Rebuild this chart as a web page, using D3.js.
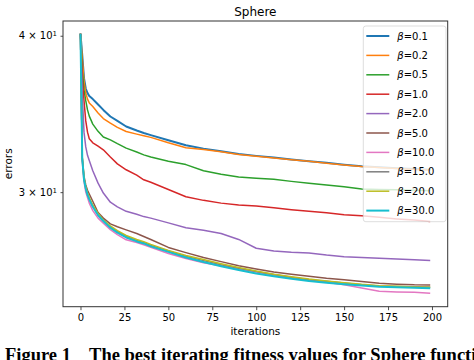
<!DOCTYPE html>
<html>
<head>
<meta charset="utf-8">
<script src="https://cdn.jsdelivr.net/npm/d3@7"></script>
<style>
  body { margin: 0; background: #fff; }
  svg { display: block; }
  .tick text { font-family: "DejaVu Sans", sans-serif; font-size: 10px; fill: #000; }
  .axis-label { font-family: "DejaVu Sans", sans-serif; font-size: 10.5px; fill: #000; }
</style>
</head>
<body>
<div id="chart"></div>
<script>
// iterations sampled along x
const iters = [0, 1, 2, 3, 4, 5, 7, 10, 13, 17, 21, 26, 32, 36, 40, 50, 60, 70, 80, 90, 100, 110, 120, 130, 140, 150, 160, 170, 180, 190, 199];

// best errors per beta
const b01 = [40.15, 38.6, 37.0, 36.3, 36.0, 35.8, 35.6, 35.25, 34.9, 34.48, 34.2, 33.85, 33.6, 33.45, 33.32, 33.0, 32.7, 32.5, 32.35, 32.18, 32.07, 31.97, 31.86, 31.76, 31.66, 31.55, 31.46, 31.4, 31.35, 31.3, 31.26];
const b02 = [40.15, 38.4, 36.8, 36.0, 35.6, 35.35, 35.12, 34.7, 34.35, 34.06, 33.8, 33.54, 33.38, 33.28, 33.18, 32.85, 32.55, 32.45, 32.32, 32.15, 32.05, 31.95, 31.84, 31.75, 31.64, 31.54, 31.45, 31.39, 31.33, 31.28, 31.24];
const b05 = [40.15, 37.5, 36.2, 35.5, 34.9, 34.5, 34.0, 33.55, 33.2, 33.03, 32.8, 32.53, 32.3, 32.13, 32.0, 31.75, 31.56, 31.2, 31.0, 30.85, 30.78, 30.72, 30.6, 30.5, 30.4, 30.3, 30.18, 30.15, 30.13, 30.1, 30.08];
const b1 = [40.15, 37.0, 35.5, 34.2, 33.5, 33.1, 32.85, 32.65, 32.43, 32.0, 31.6, 31.26, 30.95, 30.69, 30.55, 30.15, 29.75, 29.55, 29.4, 29.3, 29.24, 29.15, 29.05, 28.97, 28.88, 28.78, 28.72, 28.64, 28.56, 28.5, 28.42];
const b2 = [40.15, 36.0, 33.5, 32.6, 32.1, 31.8, 31.2, 30.5, 29.95, 29.45, 29.2, 28.96, 28.8, 28.68, 28.6, 28.35, 28.1, 27.97, 27.8, 27.5, 27.06, 26.92, 26.86, 26.82, 26.72, 26.64, 26.6, 26.57, 26.53, 26.49, 26.45];
const b5 = [40.15, 32.0, 30.9, 30.4, 30.1, 29.9, 29.5, 28.9, 28.6, 28.3, 28.15, 27.99, 27.8, 27.65, 27.5, 27.1, 26.84, 26.6, 26.4, 26.2, 26.05, 25.9, 25.8, 25.7, 25.6, 25.53, 25.45, 25.37, 25.33, 25.3, 25.29];
const b10 = [40.15, 31.8, 30.6, 30.0, 29.7, 29.4, 29.0, 28.6, 28.34, 28.0, 27.75, 27.48, 27.35, 27.23, 27.1, 26.8, 26.55, 26.35, 26.2, 26.05, 25.9, 25.75, 25.62, 25.5, 25.42, 25.3, 25.15, 25.0, 24.97, 24.95, 24.91];
const b15 = [40.15, 31.9, 30.75, 30.25, 29.9, 29.65, 29.25, 28.8, 28.48, 28.15, 27.9, 27.65, 27.45, 27.33, 27.2, 26.92, 26.66, 26.45, 26.25, 26.08, 25.92, 25.78, 25.65, 25.54, 25.46, 25.38, 25.3, 25.24, 25.22, 25.21, 25.2];
const b20 = [40.15, 32.0, 30.8, 30.3, 29.95, 29.7, 29.3, 28.85, 28.5, 28.2, 27.95, 27.7, 27.5, 27.38, 27.25, 26.95, 26.7, 26.5, 26.3, 26.12, 25.95, 25.8, 25.68, 25.57, 25.48, 25.4, 25.32, 25.26, 25.23, 25.2, 25.18];
const b30 = [40.15, 31.9, 30.7, 30.2, 29.85, 29.6, 29.2, 28.75, 28.45, 28.1, 27.85, 27.6, 27.4, 27.3, 27.15, 26.88, 26.6, 26.38, 26.18, 26.0, 25.83, 25.7, 25.58, 25.48, 25.4, 25.33, 25.27, 25.21, 25.18, 25.16, 25.14];

const betaLabels = ["0.1", "0.2", "0.5", "1.0", "2.0", "5.0", "10.0", "15.0", "20.0", "30.0"];
const seriesValues = [b01, b02, b05, b1, b2, b5, b10, b15, b20, b30];
const colors = ["#1f77b4", "#ff7f0e", "#2ca02c", "#d62728", "#9467bd", "#8c564b", "#e377c2", "#7f7f7f", "#bcbd22", "#17becf"];
const widths = [2, 1.5, 1.5, 1.5, 1.5, 1.5, 1.5, 1.5, 1.5, 2];

const xTicks = [0, 25, 50, 75, 100, 125, 150, 175, 200];
const yTicks = [30, 40];

const W = 474, H = 360;
const ax = {left: 63, top: 21, right: 447.7, bottom: 306.7};

const svg = d3.select("#chart").append("svg")
    .attr("width", W)
    .attr("height", H);

let xScale = d3.scaleLinear().domain([-9.95, 208.95]).range([ax.left, ax.right]);
let yScale = d3.scaleLog().domain([24.3, 41.1]).range([ax.bottom, ax.top]);

svg.append("clipPath").attr("id", "plotClip")
    .append("rect")
    .attr("x", ax.left).attr("y", ax.top)
    .attr("width", ax.right - ax.left).attr("height", ax.bottom - ax.top);

// lines
let line = d3.line()
    .x((d, i) => xScale(iters[i]))
    .y(d => yScale(d));

let plot = svg.append("g").attr("clip-path", "url(#plotClip)");
seriesValues.forEach((vals, k) => {
    plot.append("path")
        .datum(vals)
        .attr("d", line)
        .attr("fill", "none")
        .attr("stroke", colors[k])
        .attr("stroke-width", widths[k])
        .attr("stroke-linejoin", "round");
});

// axes
let xAxis = d3.axisBottom(xScale).tickValues(xTicks).tickSize(3.5).tickPadding(3.5).tickSizeOuter(0);
let xAx = svg.append("g")
    .attr("transform", "translate(0," + ax.bottom + ")")
    .call(xAxis);
xAx.select(".domain").remove();
xAx.selectAll(".tick line").attr("stroke", "#222").attr("stroke-width", 0.8);

let yAxis = d3.axisLeft(yScale).tickValues(yTicks).tickSize(2.5).tickPadding(3.5).tickSizeOuter(0);
let yAx = svg.append("g")
    .attr("transform", "translate(" + ax.left + ",0)")
    .call(yAxis);
yAx.select(".domain").remove();
yAx.selectAll(".tick line").attr("stroke", "#222").attr("stroke-width", 0.8);
yAx.selectAll(".tick text").each(function(d) {
    let t = d3.select(this).text("");
    t.append("tspan").text((d / 10) + " \u00d7 10");
    t.append("tspan").attr("font-size", "7px").attr("dy", "-0.45em").text("1");
});

// frame
svg.append("rect")
    .attr("x", ax.left).attr("y", ax.top)
    .attr("width", ax.right - ax.left).attr("height", ax.bottom - ax.top)
    .attr("fill", "none")
    .attr("stroke", "#333")
    .attr("stroke-width", 1);

// title and axis labels
svg.append("text")
    .attr("x", (ax.left + ax.right) / 2).attr("y", 16)
    .attr("text-anchor", "middle")
    .style("font-family", "DejaVu Sans, sans-serif")
    .style("font-size", "12px")
    .text("Sphere");

svg.append("text")
    .classed("axis-label", true)
    .attr("text-anchor", "middle")
    .attr("transform", "translate(" + (ax.left + ax.right) / 2 + ",335)")
    .text("iterations");

svg.append("text")
    .classed("axis-label", true)
    .attr("text-anchor", "middle")
    .attr("transform", "translate(12," + (ax.top + ax.bottom) / 2 + ") rotate(-90)")
    .text("errors");

// legend
let legend = svg.append("g").attr("transform", "translate(363.3,26)");
legend.append("rect")
    .attr("width", 82.7).attr("height", 195.7)
    .attr("rx", 2.5)
    .attr("fill", "#fff").attr("fill-opacity", 0.8)
    .attr("stroke", "#d4d4d4").attr("stroke-width", 0.8);

betaLabels.forEach((b, k) => {
    let ly = 10 + k * 19.4;
    legend.append("line")
        .attr("x1", 3).attr("x2", 26)
        .attr("y1", ly).attr("y2", ly)
        .attr("stroke", colors[k])
        .attr("stroke-width", widths[k]);
    let t = legend.append("text")
        .attr("x", 34).attr("y", ly + 3.6)
        .style("font-family", "DejaVu Sans, sans-serif")
        .style("font-size", "10px");
    t.append("tspan").style("font-style", "italic").text("\u03b2");
    t.append("tspan").text("=" + b);
});

// caption, cut at the bottom edge like the source
svg.append("text")
    .attr("x", 5).attr("y", 361)
    .style("font-family", "Liberation Serif, Times New Roman, serif")
    .style("font-weight", "bold")
    .style("font-size", "18.5px")
    .attr("xml:space", "preserve")
    .text("Figure 1    The best iterating fitness values for Sphere function");
</script>
</body>
</html>
